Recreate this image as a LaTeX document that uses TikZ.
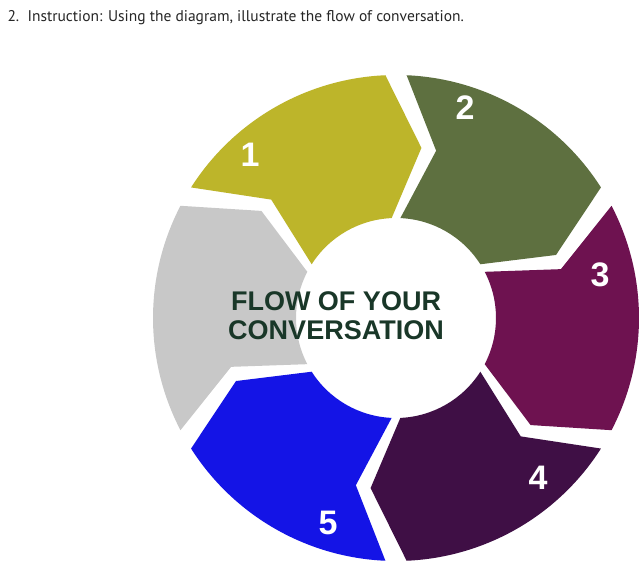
\documentclass[tikz,border=0pt]{standalone}
\usepackage{fontspec}
\setmainfont{Liberation Sans}
\newfontfamily\hdr{PT Sans}
\begin{document}
\begin{tikzpicture}[x=1pt,y=1pt,
  numtxt/.style={text=white,font=\fontsize{34}{34}\selectfont\bfseries},
  seg/.style={draw=none}]
\useasboundingbox[fill=white] (0,0) rectangle (642,569);
\node[anchor=west,font=\hdr\fontsize{15.5}{18}\selectfont,text=black!85] (title) at (4,551) {2.\ \ Instruction: Using the diagram, illustrate the flow of conversation.};
\begin{scope}[shift={(396,251)}]
\def\ro{243}\def\ri{100}\def\rm{172}\def\dd{11}\def\gg{2.5}
\foreach \a/\b/\c/\n in {150/90/c1/s1, 90/30/c2/s2, 30/-30/c3/s3, -30/-90/c4/s4, -90/-150/c5/s5, 210/150/c6/s6}{
  \definecolor{c1}{HTML}{BDB52A}\definecolor{c2}{HTML}{5E7040}\definecolor{c3}{HTML}{6E1250}
  \definecolor{c4}{HTML}{3F0F45}\definecolor{c5}{HTML}{1414E6}\definecolor{c6}{HTML}{C8C8C8}
  \fill[\c] (\a-\gg:\ro) arc[start angle=\a-\gg, end angle=\b+\gg, radius=\ro]
    -- (\b+\gg-\dd:\rm) -- (\b+\gg:\ri)
    arc[start angle=\b+\gg, end angle=\a-\gg, radius=\ri]
    -- (\a-\gg-\dd:\rm) -- cycle;
}
\fill[white] (0,0) circle (97);
\node[font=\fontsize{27}{27}\selectfont\bfseries,text={rgb,255:red,25;green,55;blue,40},align=center,inner sep=0pt] (center) at (-60,2) {FLOW OF YOUR\\[2pt]CONVERSATION};
\end{scope}
\node[numtxt] (n1) at (250,414) {1};
\node[numtxt] (n2) at (465,461) {2};
\node[numtxt] (n3) at (600,294) {3};
\node[numtxt] (n4) at (538,91) {4};
\node[numtxt] (n5) at (328,46) {5};
\end{tikzpicture}
\end{document}
